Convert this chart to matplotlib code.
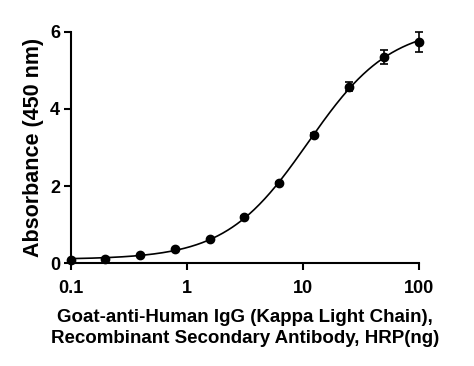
import numpy as np
import matplotlib
matplotlib.use("Agg")
import matplotlib.pyplot as plt

conc = [0.1, 0.195, 0.39, 0.78, 1.5625, 3.125, 6.25, 12.5, 25, 50, 100]
absorb = [0.09, 0.12, 0.20, 0.36, 0.63, 1.19, 2.08, 3.33, 4.58, 5.35, 5.74]
err = [0.0, 0.0, 0.0, 0.0, 0.0, 0.03, 0.03, 0.05, 0.12, 0.18, 0.25]
xticks = [0.1, 1, 10, 100]
xticklabels = ["0.1", "1", "10", "100"]
yticks = [0, 2, 4, 6]

x = np.array(conc)
y = np.array(absorb)

# 4-parameter logistic fit: grid over ec50 & hill, linear solve for bottom/top
best = None
for ec50 in np.logspace(0, 2, 300):
    for hill in np.linspace(0.6, 2.5, 200):
        g = 1.0 / (1.0 + (ec50 / x) ** hill)
        A = np.column_stack([np.ones_like(g), g])
        coef, *_ = np.linalg.lstsq(A, y, rcond=None)
        r = np.sum((A @ coef - y) ** 2)
        if best is None or r < best[0]:
            best = (r, ec50, hill, coef)
_, ec50, hill, coef = best
xf = np.logspace(-1, 2, 400)
yf = coef[0] + coef[1] / (1.0 + (ec50 / xf) ** hill)

plt.rcParams['font.family'] = ['Liberation Sans', 'DejaVu Sans']
plt.rcParams['font.weight'] = 'bold'

fig = plt.figure(figsize=(4.74, 3.66), dpi=100)
ax = fig.add_axes([0.150, 0.281, 0.734, 0.632])
ax.plot(xf, yf, color='black', lw=1.2, zorder=2)
ax.errorbar(x, y, yerr=err, fmt='o', color='black', ms=6, capsize=3,
            elinewidth=1.2, capthick=1.2, zorder=3, clip_on=False)
ax.set_xscale('log')
ax.set_xlim(0.1, 100)
ax.set_ylim(0, 6)
ax.set_xticks(xticks)
ax.set_xticklabels(xticklabels)
ax.xaxis.set_minor_locator(matplotlib.ticker.NullLocator())
ax.set_yticks(yticks)
for s in ['top', 'right']:
    ax.spines[s].set_visible(False)
for s in ['left', 'bottom']:
    ax.spines[s].set_linewidth(1.5)
ax.tick_params(axis='both', width=1.5, length=5, labelsize=13)
ax.tick_params(axis='x', pad=7)
ax.tick_params(axis='y', pad=3)
for lab in ax.get_xticklabels() + ax.get_yticklabels():
    lab.set_fontweight('bold')
ax.set_ylabel('Absorbance (450 nm)', fontsize=15.5, fontweight='bold', labelpad=4)
ax.set_xlabel('Goat-anti-Human IgG (Kappa Light Chain),\nRecombinant Secondary Antibody, HRP(ng)',
              fontsize=13.5, fontweight='bold', labelpad=9, linespacing=1.25)
fig.savefig('out.png', dpi=100)
